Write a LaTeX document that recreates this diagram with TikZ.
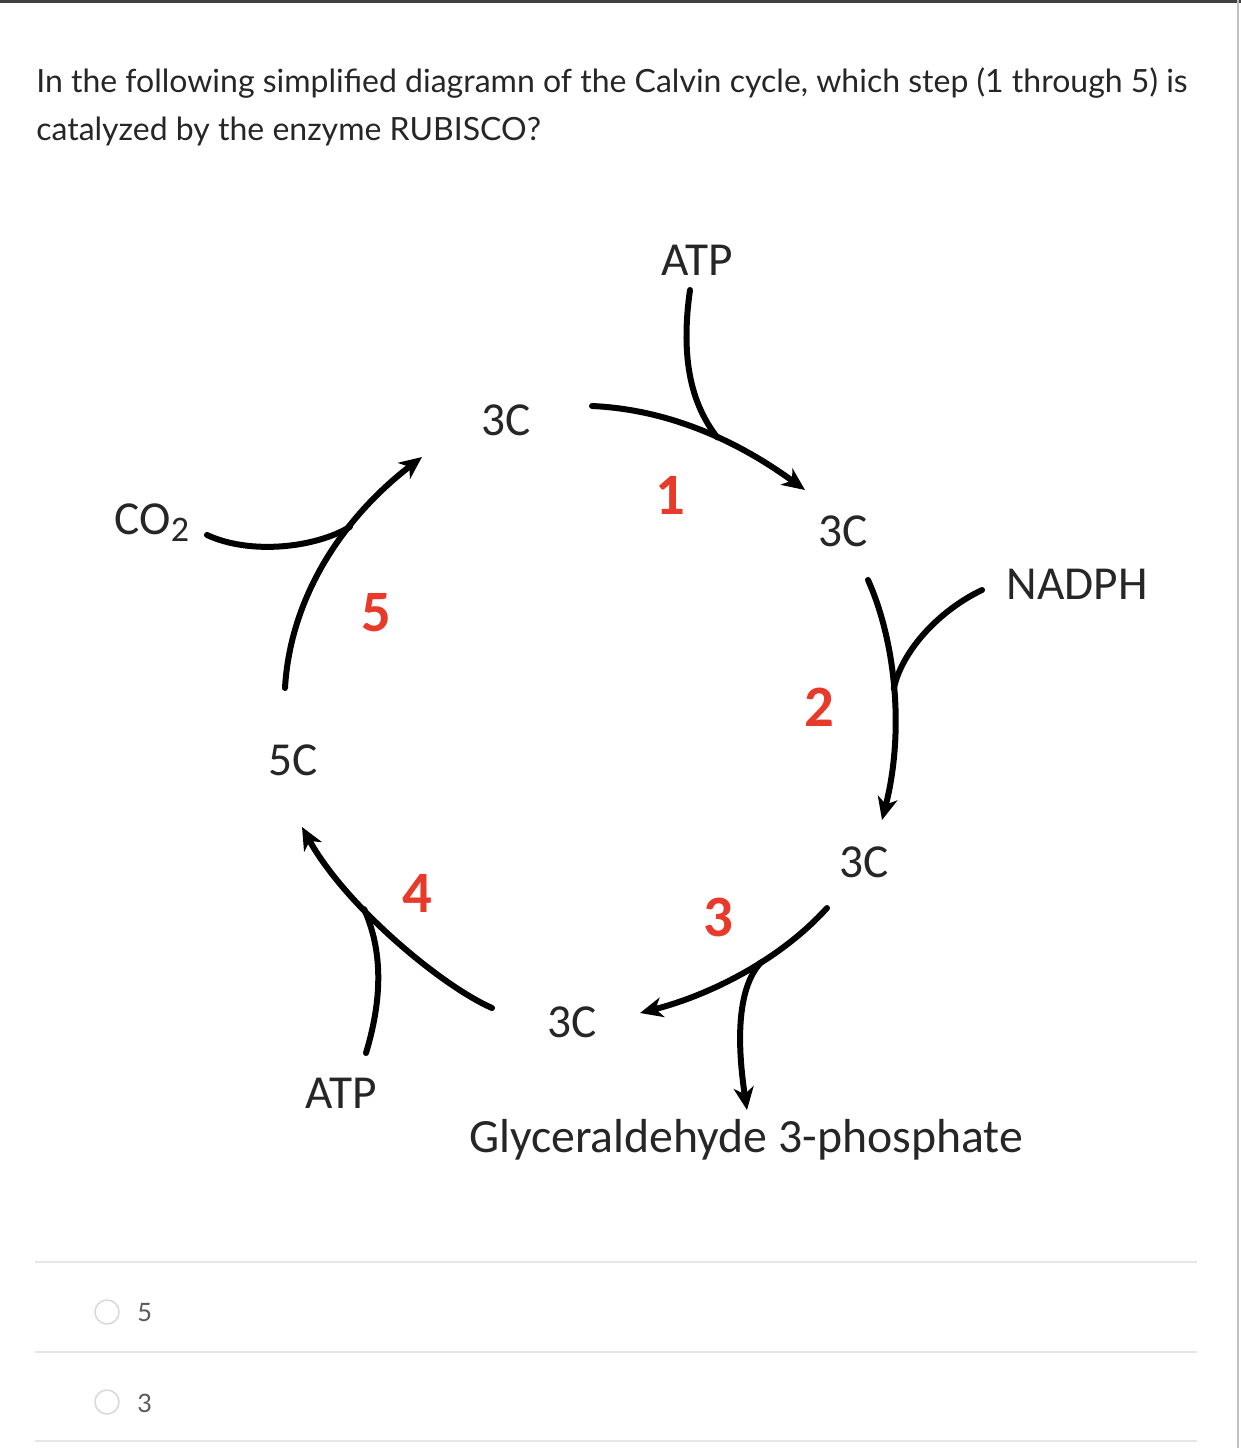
\documentclass[tikz,border=0pt]{standalone}
\usepackage{fontspec}
\setmainfont{Lato}
\newfontfamily\carlito{Carlito}
\usetikzlibrary{arrows.meta, positioning}
\definecolor{stepred}{RGB}{232,58,42}
\definecolor{rulegray}{RGB}{230,230,230}
\definecolor{optgray}{RGB}{90,90,90}

\tikzset{
	cyc/.style={line width=4.5pt, line cap=round},
	cycarrow/.style={cyc, -{Stealth[length=17pt, width=15pt, inset=5pt]}},
	mol/.style={font=\carlito\fontsize{35.5}{40}\selectfont, text=black!85, inner sep=0pt},
	stepnum/.style={font=\carlito\bfseries\fontsize{44}{50}\selectfont, text=stepred, inner sep=0pt},
	question/.style={font=\fontsize{24}{28}\selectfont, text=black!85, inner sep=0pt, anchor=base west},
	option/.style={font=\fontsize{19}{22}\selectfont, text=optgray, inner sep=0pt, anchor=west}
}

\begin{document}
\begin{tikzpicture}[x=0.75pt, y=-0.75pt]
		
		\useasboundingbox (0,0) rectangle (1241,1448);
		
		%Page frame
		\fill[black!75] (0,0) rectangle (1241,3);
		\draw[black!25, line width=1.5pt] (1238,0) -- (1238,1448);
		
		%Question
		\node[question] (q1) at (36,93) {In the following simplified diagramn of the Calvin cycle, which step (1 through 5) is};
		\node[question] (q2) at (36,141) {catalyzed by the enzyme RUBISCO?};
		
		%Molecules
		\node[mol] (atptop) at (697,260) {ATP};
		\node[mol] (c3top) at (506,420) {3C};
		\node[mol] (c3right) at (843,531) {3C};
		\node[mol] (nadph) at (1077,584) {NADPH};
		\node[mol] (co2) at (152,523) {CO\raisebox{-0.15em}{\fontsize{27}{30}\selectfont 2}};
		\node[mol] (c5) at (293,760) {5C};
		\node[mol] (c3low) at (864,862) {3C};
		\node[mol] (c3bottom) at (572,1022) {3C};
		\node[mol] (atpbottom) at (341,1093) {ATP};
		\node[mol, font=\carlito\fontsize{35.8}{40}\selectfont] (g3p) at (746,1140) {Glyceraldehyde 3-phosphate};
		
		%Step numbers
		\node[stepnum] (n1) at (670,495) {1};
		\node[stepnum] (n2) at (819,707) {2};
		\node[stepnum] (n3) at (718,917) {3};
		\node[stepnum] (n4) at (417,893) {4};
		\node[stepnum] (n5) at (376,613) {5};
		
		%Arrow ends
		\coordinate (a1s) at (592,406);
		\coordinate (a1e) at (805,490);
		\coordinate (b1s) at (690,290);
		\coordinate (a2s) at (868,580);
		\coordinate (a2e) at (882,820);
		\coordinate (b2s) at (982,590);
		\coordinate (a3s) at (827,908);
		\coordinate (a3e) at (640,1013);
		\coordinate (b3e) at (747,1110);
		\coordinate (a4s) at (492,1008);
		\coordinate (a4e) at (302,827);
		\coordinate (b4s) at (366,1053);
		\coordinate (a5s) at (285,688);
		\coordinate (a5e) at (422,457);
		\coordinate (b5s) at (207,535);
		
		%Step 1
		\draw[cycarrow] (a1s) .. controls (680,410) and (750,450) .. coordinate[pos=0.53] (j1) (a1e);
		\draw[cyc] (b1s) .. controls (680,360) and (692,405) .. (j1);
		
		%Step 2
		\draw[cycarrow] (a2s) .. controls (895,640) and (905,730) .. coordinate[pos=0.5] (j2) (a2e);
		\draw[cyc] (b2s) .. controls (940,610) and (902,650) .. (j2);
		
		%Step 3
		\draw[cycarrow] (a3s) .. controls (780,960) and (710,995) .. coordinate[pos=0.4] (j3) (a3e);
		\draw[cycarrow] (j3) .. controls (735,990) and (738,1050) .. (b3e);
		
		%Step 4
		\draw[cycarrow] (a4s) .. controls (440,985) and (345,905) .. coordinate[pos=0.64] (j4) (a4e);
		\draw[cyc] (b4s) .. controls (385,990) and (380,945) .. (j4);
		
		%Step 5
		\draw[cycarrow] (a5s) .. controls (290,600) and (340,520) .. coordinate[pos=0.66] (j5) (a5e);
		\draw[cyc] (b5s) .. controls (250,555) and (315,548) .. (j5);
		
		%Answer options
		\draw[rulegray, line width=1.5pt] (35,1262) -- (1197,1262);
		\draw[rulegray, line width=1.5pt] (35,1352) -- (1197,1352);
		\draw[rulegray, line width=1.5pt] (35,1441) -- (1197,1441);
		\draw[black!15, line width=1.2pt] (107,1312) circle (12);
		\draw[black!15, line width=1.2pt] (107,1402) circle (12);
		\node[option] (opt5) at (137,1313) {5};
		\node[option] (opt3) at (137,1403) {3};
		
\end{tikzpicture}
\end{document}
